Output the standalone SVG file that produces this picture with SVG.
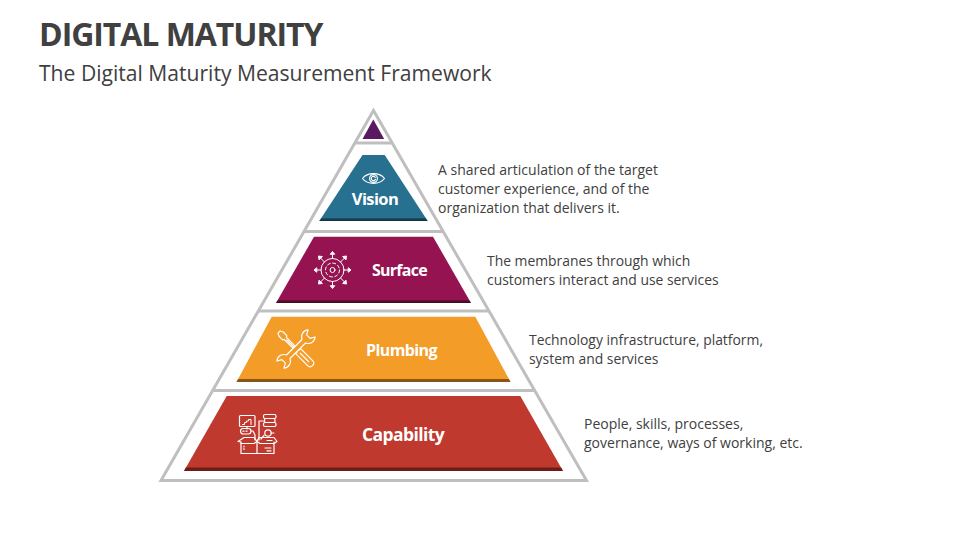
<svg xmlns="http://www.w3.org/2000/svg" width="960" height="540" viewBox="0 0 960 540">
<style>
text{font-family:"Open Sans","Noto Sans","Liberation Sans",sans-serif}
.t{font-size:14px;fill:#404040}
.n{font-size:13.900px;fill:#404040}
.l{font-weight:700;fill:#fff;text-anchor:middle}
.f{fill:none;stroke:#bfbfbf;stroke-width:3;stroke-linejoin:miter}
.i{fill:none;stroke:#fff;stroke-width:1.200;stroke-linejoin:round;stroke-linecap:round}
</style>
<defs>
<linearGradient id="s" x1="0" y1="0" x2="0" y2="1"><stop offset="0" stop-color="#000" stop-opacity=".25"/><stop offset="1" stop-color="#000" stop-opacity=".6"/></linearGradient>
</defs>
<rect width="960" height="540" fill="#fff"/>
<text x="39" y="46" font-weight="700" fill="#404040" style="font-size:32px;letter-spacing:-1.050px">DIGITAL MATURITY</text>
<text x="39" y="81" style="font-size:21.100px" fill="#404040">The Digital Maturity Measurement Framework</text>
<g id="frame">
<path class="f" d="M373.500 110.500L586.500 480.500H161Z"/>
<path class="f" d="M354 143H393M304 231.500H443M258 311H489M214 390.500H534"/>
</g>
<g id="tier-top">
<polygon points="373.300,119.500 384.200,139 362.500,139" fill="#5a1a62"/>
</g>
<g id="tier-vision">
<polygon points="362.500,155 384.700,155 427.700,221 319.300,221" fill="#27708f"/>
<polygon points="321.300,218 425.700,218 427.700,221 319.300,221" fill="url(#s)"/>
<g class="i" transform="translate(373.500 178.500)">
<path d="M-11 0C-6-6.500 6-6.500 11 0C6 6.500-6 6.500-11 0Z"/>
<circle r="3.900"/><path d="M1.800-1.200A2.200 2.200 0 1 0 2 .8"/>
</g>
<text class="l" x="375" y="205" style="font-size:16.500px;letter-spacing:-.6px">Vision</text>
</g>
<g id="tier-surface">
<polygon points="314,236.700 433,236.700 471,303 276,303" fill="#951351"/>
<polygon points="277.700,300 469.300,300 471,303 276,303" fill="url(#s)"/>
<g class="i" transform="translate(332.500 270)" style="stroke-width:1">
<circle r="11.500"/><circle r="2.500"/><circle r="7" stroke-dasharray="3 2.500"/>
<path d="M0-11.500V-17M0 11.500V17M-11.500 0H-17M11.500 0H17M-8.100-8.100L-12.500-12.500M8.100-8.100L12.500-12.500M-8.100 8.100L-12.500 12.500M8.100 8.100L12.500 12.500"/>
<path d="M-2-16L0-18.500L2-16ZM-2 16L0 18.500L2 16ZM-16-2L-18.500 0L-16 2ZM16-2L18.500 0L16 2ZM-13.500-10.500L-14-14L-10.500-13.500ZM13.500-10.500L14-14L10.500-13.500ZM-13.500 10.500L-14 14L-10.500 13.500ZM13.500 10.500L14 14L10.500 13.500Z" fill="#fff"/>
</g>
<text class="l" x="399.500" y="275.500" style="font-size:16px;letter-spacing:-.7px">Surface</text>
</g>
<g id="tier-plumbing">
<polygon points="271.700,316.700 475.300,316.700 510.500,382 236.500,382" fill="#f39c28"/>
<polygon points="238.100,379 508.900,379 510.500,382 236.500,382" fill="#8a5518"/>
<g class="i" transform="translate(296 349)">
<path transform="rotate(45)" d="M-24-1.500L-21-3H-16L-15-1.500H3V-3.500H20A3.500 3.500 0 0 1 20 3.500H3V1.500H-15L-16 3H-21L-24 1.500ZM6 0H18M-13 0H0"/>
<path transform="rotate(-45)" fill="#f39c28" d="M-11-2.500H11A7 7 0 0 1 22-5L17.500-2.500V2.500L22 5A7 7 0 0 1 11 2.500H-11A7 7 0 0 1-22 5L-17.500 2.500V-2.500L-22-5A7 7 0 0 1-11-2.500Z"/>
</g>
<text class="l" x="401.500" y="355.500" style="font-size:16px;letter-spacing:-.6px">Plumbing</text>
</g>
<g id="tier-capability">
<polygon points="226.700,396 520.300,396 563,471 184,471" fill="#c0392f"/>
<polygon points="186,467.500 561,467.500 563,471 184,471" fill="#6e1c16"/>
<g class="i" transform="translate(233 408)">
<rect x="6.500" y="7.500" width="15.500" height="11" rx="1"/>
<path d="M9.500 16.500H11.500V14.500H13.500V13H15.500V11.500H18V16.500" stroke-width="1"/>
<path d="M14 18.500V21"/>
<rect x="30.500" y="6.500" width="12.500" height="4" rx="1.500"/>
<rect x="31.500" y="10.500" width="10.500" height="4" rx="1.500"/>
<rect x="30.500" y="14.500" width="12.500" height="4" rx="1.500"/>
<rect x="7.500" y="20.500" width="10.500" height="5.500" rx="2.700"/>
<path d="M10 23.200H15.500" stroke-dasharray="1 2"/>
<path d="M18 23H20L22 27V32M26 32V13H30.500"/>
<circle cx="35" cy="25" r="3.200"/>
<path d="M28 31L31 27.500M38 25H41"/>
<path d="M8 34V45.500H41V34M24 32V45.500"/>
<path d="M8 34L5 33.500L11 29.500H21L24 33.500L21 35.500H8M24 33.500L26 29.500H41L44 33.500L41 35.500H27L24 33.500"/>
<path d="M11 38V42.500" stroke-dasharray="1 1.500"/>
<path d="M32 40H38M34 42.800H38M34 32.500H39" />
</g>
<text class="l" x="403" y="440.500" style="font-size:17.500px;letter-spacing:-.6px">Capability</text>
</g>
<g id="desc-vision"><text class="t" x="438" y="175">A shared articulation of the target</text><text class="t" x="438" y="194">customer experience, and of the</text><text class="t" x="438" y="213">organization that delivers it.</text></g>
<g id="desc-surface"><text class="n" x="487" y="266">The membranes through which</text><text class="n" x="487" y="285">customers interact and use services</text></g>
<g id="desc-plumbing"><text class="n" x="529" y="345">Technology infrastructure, platform,</text><text class="n" x="529" y="364">system and services</text></g>
<g id="desc-capability"><text class="t" x="584" y="429">People, skills, processes,</text><text class="t" x="584" y="448">governance, ways of working, etc.</text></g>
</svg>
